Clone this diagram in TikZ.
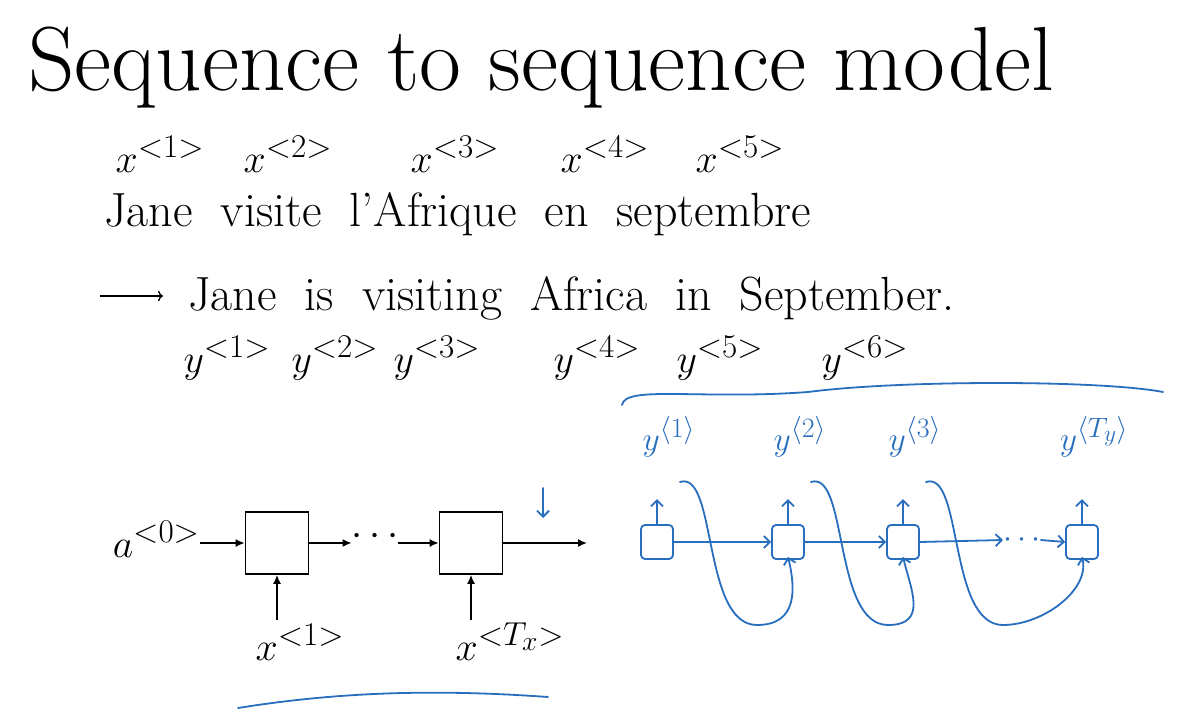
\documentclass[tikz,border=0pt]{standalone}
\usepackage{graphicx}
\usetikzlibrary{arrows.meta}
\definecolor{pen}{RGB}{40,110,190}
\newcommand\BigM[2]{\scalebox{#1}{\fontsize{24.88}{30}\selectfont$#2$}}
\newcommand\gap{\hspace{28pt}}
\begin{document}
\begin{tikzpicture}[x=1pt,y=-1pt,
  txt/.style={anchor=base west,inner sep=0pt,font=\fontsize{48}{52}\selectfont},
  sup/.style={anchor=base,inner sep=0pt},
  cell/.style={draw,line width=1.6pt,minimum width=63pt,minimum height=62pt,inner sep=0pt},
  arr/.style={-{Latex[length=9pt,width=8pt]},line width=1.6pt},
  hand/.style={draw=pen,line width=1.8pt,line cap=round,line join=round},
  harr/.style={hand,-{Straight Barb[length=6pt]}},
  hlab/.style={text=pen,anchor=base,inner sep=0pt}]
\useasboundingbox[fill=white](0,0) rectangle (1200,725);
\node[anchor=base west,inner sep=0pt,font=\fontsize{91}{100}\selectfont] (title) at (28,90) {Sequence to sequence model};
% source
\node[sup] (x1) at (160,172) {\BigM{1.6}{x^{<1>}}};
\node[sup] (x2) at (288,172) {\BigM{1.6}{x^{<2>}}};
\node[sup] (x3) at (455,172) {\BigM{1.6}{x^{<3>}}};
\node[sup] (x4) at (605,172) {\BigM{1.6}{x^{<4>}}};
\node[sup] (x5) at (740,172) {\BigM{1.6}{x^{<5>}}};
\node[txt] (src) at (104,226) {Jane\gap visite\gap l'Afrique\gap en\gap septembre};
\node[txt] (tgt) at (188,310) {Jane\gap is\gap visiting\gap Africa\gap in\gap September.};
\coordinate (ta) at (100,296); \coordinate (tb) at (163,296);
\draw[-{To[length=5pt]},line width=1.4pt] (ta) -- (tb);
\node[sup] (y1) at (227,372) {\BigM{1.6}{y^{<1>}}};
\node[sup] (y2) at (335,372) {\BigM{1.6}{y^{<2>}}};
\node[sup] (y3) at (437,372) {\BigM{1.6}{y^{<3>}}};
\node[sup] (y4) at (597,372) {\BigM{1.6}{y^{<4>}}};
\node[sup] (y5) at (720,372) {\BigM{1.6}{y^{<5>}}};
\node[sup] (y6) at (865,372) {\BigM{1.6}{y^{<6>}}};
% encoder
\node[cell] (c1) at (277,543) {};
\node[cell] (c2) at (471,543) {};
\node[sup,anchor=base east] (a0) at (200,557) {\BigM{1.6}{a^{<0>}}};
\draw[arr] (a0.east |- c1.west) -- (c1.west);
\node[inner sep=0pt] (dots) at (375,537) {\BigM{1.6}{\cdots}};
\draw[arr] (c1.east) -- (c1.east -| dots.west);
\draw[arr] (c2.west -| dots.east) -- (c2.west);
\coordinate (out) at (587,543);
\draw[arr] (c2.east) -- (out);
\node[sup] (ex1) at (300,660) {\BigM{1.6}{x^{<1>}}};
\node[sup] (ex2) at (510,660) {\BigM{1.6}{x^{<T_x>}}};
\coordinate (e1) at (277,620); \coordinate (e2) at (471,620);
\draw[arr] (e1) -- (c1.south);
\draw[arr] (e2) -- (c2.south);
% blue annotations
\coordinate (da) at (543,488); \coordinate (db) at (543,518);
\draw[harr] (da) -- (db);
\draw[hand] (238,708) .. controls (350,690) and (450,690) .. (548,697);
\draw[hand] (622,405) .. controls (625,385) and (700,400) .. (808,392) .. controls (900,380) and (1100,380) .. (1163,392);
% decoder
\foreach \n/\x/\lab in {d1/657/{y^{\langle1\rangle}},d2/788/{y^{\langle2\rangle}},d3/903/{y^{\langle3\rangle}},d4/1082/{y^{\langle T_y\rangle}}}{
  \node[hand,rounded corners=4pt,minimum width=32pt,minimum height=34pt,inner sep=0pt] (\n) at (\x,542) {};
  \node[hlab] (\n l) at (\x+12,450) {\BigM{1.35}{\lab}};
  \draw[harr] (\n.north) -- ++(0,-25);
}
\draw[harr] (d1.east) -- (d2.west);
\draw[harr] (d2.east) -- (d3.west);
\node[inner sep=0pt,text=pen] (ddots) at (1022,540) {\BigM{1.3}{\cdots}};
\draw[harr] (d3.east) -- (ddots.west);
\draw[harr] (ddots.east) -- (d4.west);
\foreach \a/\b in {d1/d2,d2/d3,d3/d4}{
  \draw[harr] ([shift={(23,-60)}]\a.center) .. controls ([shift={(60,-72)}]\a.center) and ([shift={(45,83)}]\a.center) .. ([shift={(100,83)}]\a.center) .. controls ([shift={(140,83)}]\a.center) and ([shift={(8,30)}]\b.south) .. ([yshift=3pt]\b.south);
}
\end{tikzpicture}
\end{document}
